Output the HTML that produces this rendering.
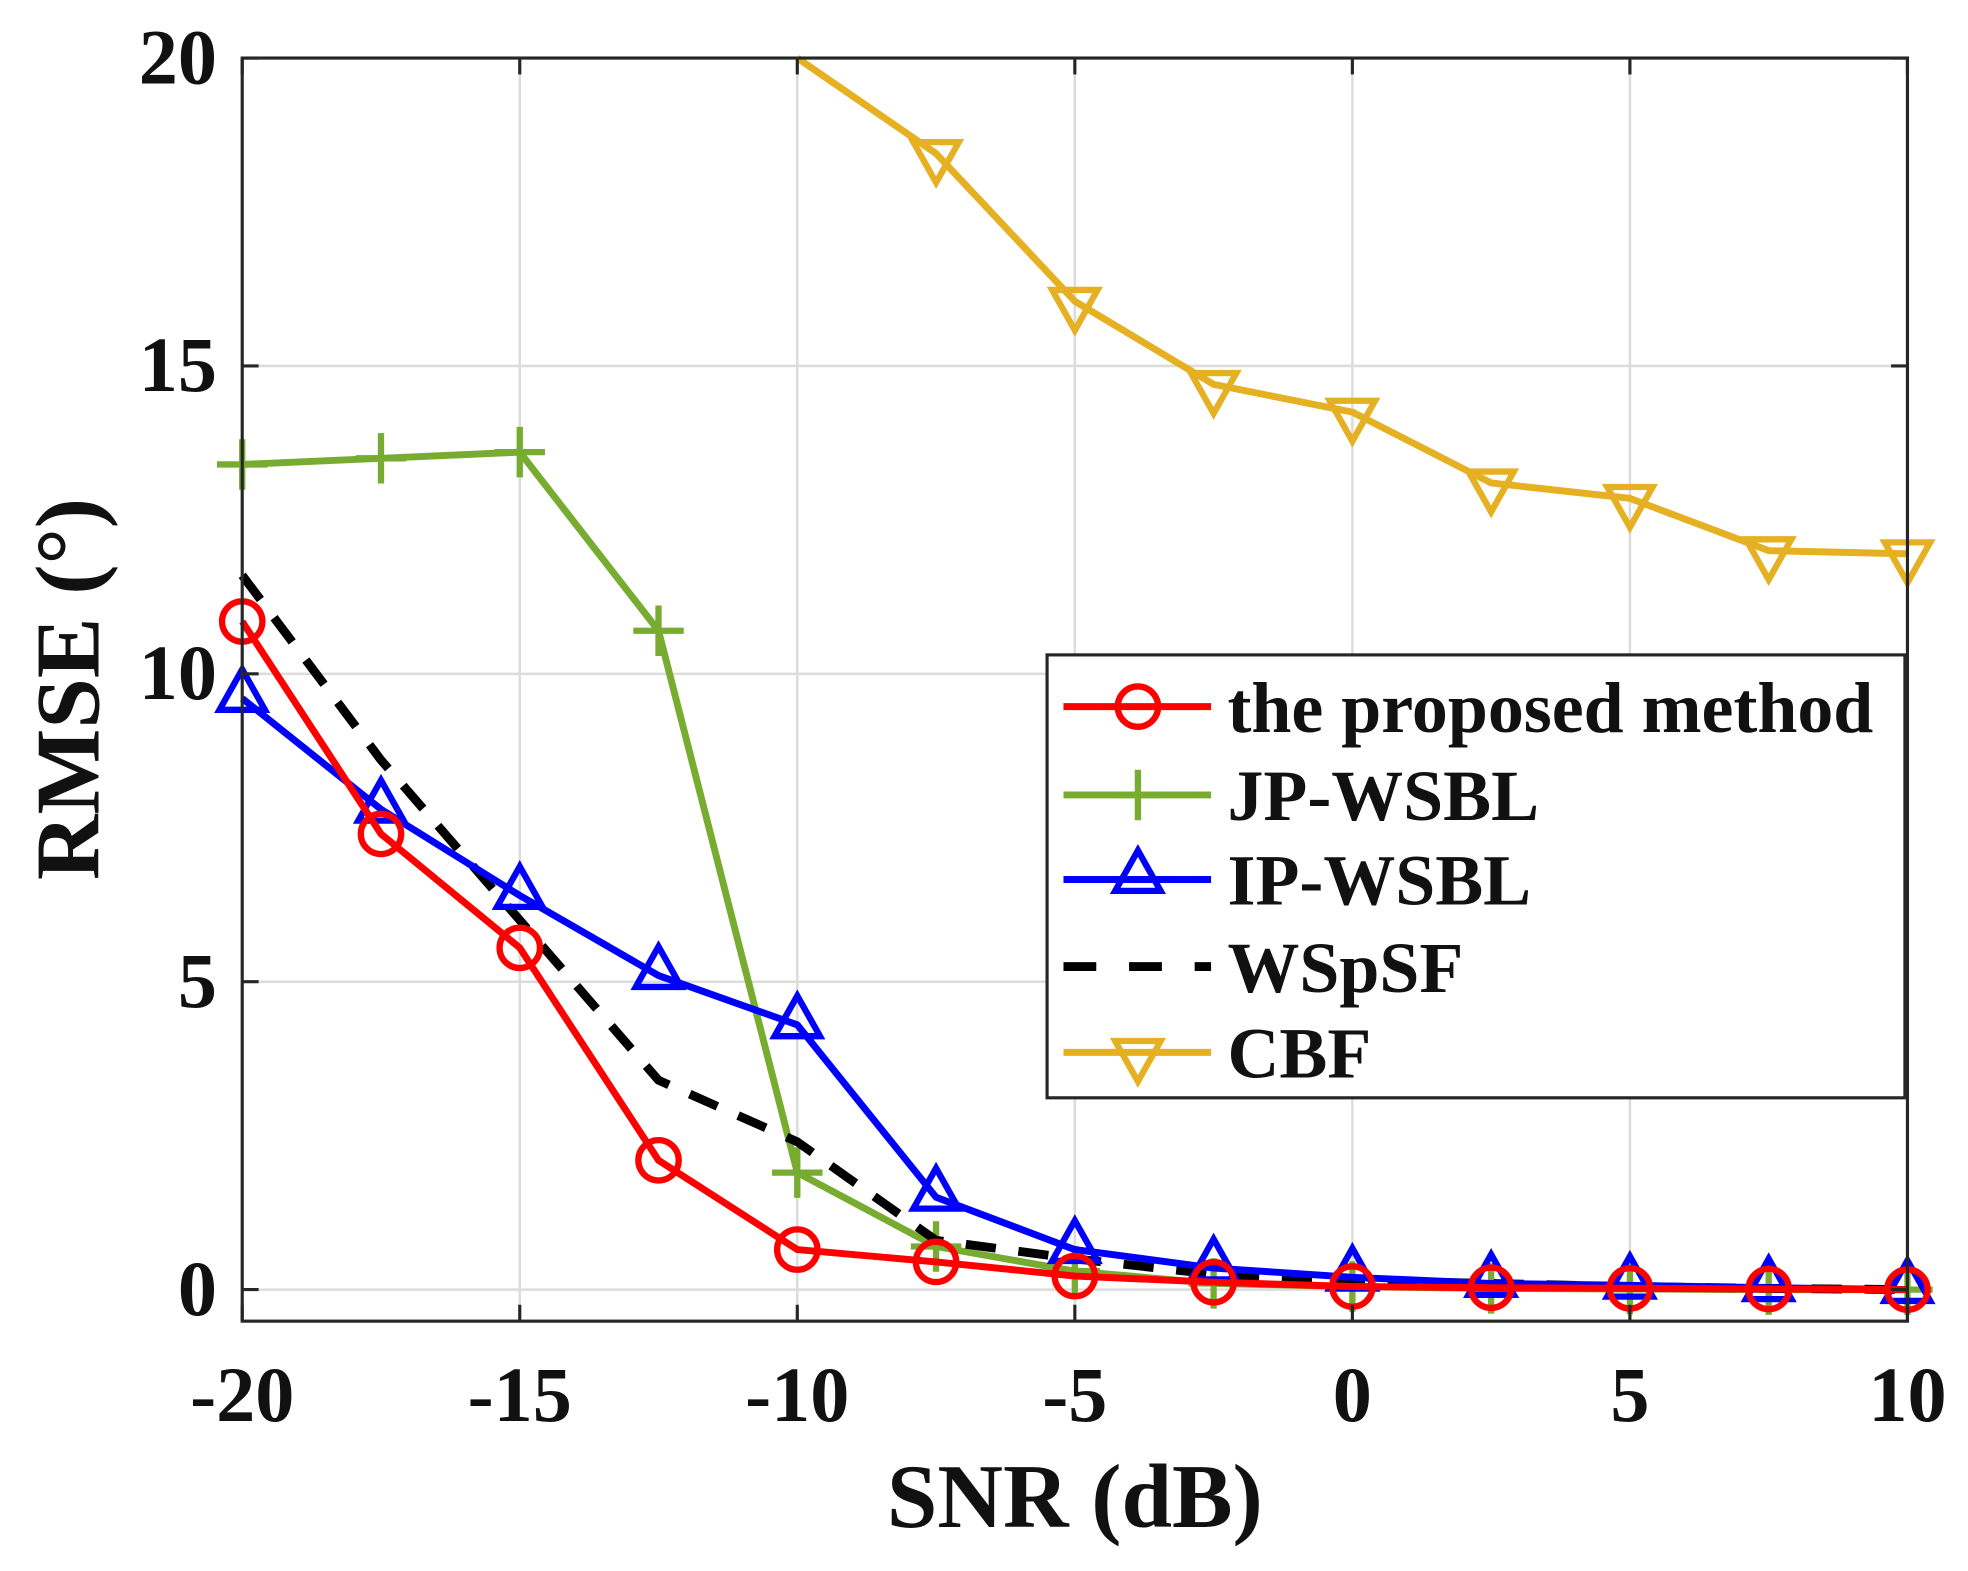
<!DOCTYPE html>
<html><head><meta charset="utf-8"><style>
html,body{margin:0;padding:0;background:#fff}
svg{display:block}
text{font-family:"Liberation Serif",serif;font-weight:bold;fill:#111}
</style></head><body>
<svg id="s" width="1968" height="1571" viewBox="0 0 1560 1245" preserveAspectRatio="none" xmlns="http://www.w3.org/2000/svg">
<rect x="0" y="0" width="1560" height="1245" fill="#fff"/>
<g id="grid" stroke="#dcdcdc" stroke-width="2"></g>
<g id="series"></g>
<rect x="192" y="46" width="1320" height="1001" fill="none" stroke="#262626" stroke-width="2.5"/>
<g id="ticks" stroke="#262626" stroke-width="2.5"></g>
<g id="labels" font-size="62"></g>
<text x="852" y="1210" font-size="72" text-anchor="middle">SNR (dB)</text>
<text transform="translate(78,546) rotate(-90)" font-size="72" text-anchor="middle">RMSE (°)</text>
<rect x="830" y="519" width="680" height="351" fill="#fff" stroke="#262626" stroke-width="2.5"/>
<g id="legend" font-size="57"></g>
</svg>
<script>
const NS="http://www.w3.org/2000/svg";
function el(p,t,a,txt){const e=document.createElementNS(NS,t);for(const k in a)e.setAttribute(k,a[k]);if(txt!==undefined)e.textContent=txt;document.getElementById(p).appendChild(e);return e;}
const X=s=>192+44*(s+20), Y=v=>1022-48.8*v;
for(let s=-20;s<=10;s+=5){if(s>-20&&s<10)el('grid','line',{x1:X(s),y1:46,x2:X(s),y2:1047});
 el('ticks','line',{x1:X(s),y1:1047,x2:X(s),y2:1034});el('ticks','line',{x1:X(s),y1:46,x2:X(s),y2:59});
 el('labels','text',{x:X(s),y:1126,'text-anchor':'middle'},String(s));}
for(let v=0;v<=20;v+=5){if(v<20)el('grid','line',{x1:192,y1:Y(v),x2:1512,y2:Y(v)});
 el('ticks','line',{x1:192,y1:Y(v),x2:205,y2:Y(v)});el('ticks','line',{x1:1512,y1:Y(v),x2:1499,y2:Y(v)});
 el('labels','text',{x:172,y:Y(v)+20,'text-anchor':'end'},v);}
const xs=[-20,-17.5,-15,-12.5,-10,-7.5,-5,-2.5,0,2.5,5,7.5,10];
const S=[
 {c:'#e6b023',m:'tv',d:[null,null,null,null,20,18.45,16.05,14.7,14.25,13.1,12.85,12.0,11.95]},
 {c:'#77ac30',m:'plus',d:[13.4,13.5,13.6,10.7,1.9,0.7,0.3,0.1,0.05,0.02,0.01,0,0]},
 {c:'#000',m:'none',dash:'24 18',d:[11.6,8.6,6.0,3.4,2.4,0.8,0.5,0.25,0.15,0.1,0.05,0.02,0]},
 {c:'#0000ff',m:'tri',d:[9.6,7.8,6.4,5.1,4.3,1.5,0.65,0.35,0.2,0.1,0.07,0.03,0]},
 {c:'#ff0000',m:'o',d:[10.85,7.4,5.55,2.1,0.65,0.45,0.22,0.12,0.05,0.03,0.02,0.01,0]}];
function marker(p,m,x,y,c,first){
 if(m==='o')el(p,'circle',{cx:x,cy:y,r:16,fill:'none',stroke:c,'stroke-width':5});
 if(m==='plus'){el(p,'line',{x1:x-20,y1:y,x2:x+20,y2:y,stroke:c,'stroke-width':5});el(p,'line',{x1:x,y1:y-20,x2:x,y2:y+20,stroke:c,'stroke-width':5});}
 if(m==='tri')el(p,'polygon',{points:`${x},${y-23} ${x-18},${y+9} ${x+18},${y+9}`,fill:'none',stroke:c,'stroke-width':5});
 if(m==='tv'&&!first)el(p,'polygon',{points:`${x},${y+23} ${x-18},${y-9} ${x+18},${y-9}`,fill:'none',stroke:c,'stroke-width':5});
}
for(const s of S){let pts=[];xs.forEach((x,i)=>{if(s.d[i]!==null)pts.push([X(x),Y(s.d[i])]);});
 const a={points:pts.map(p=>p.join(',')).join(' '),fill:'none',stroke:s.c,'stroke-width':s.dash?7:5.5,'stroke-linejoin':'round'};if(s.dash)a['stroke-dasharray']=s.dash;
 el('series','polyline',a);pts.forEach((p,i)=>marker('series',s.m,p[0],p[1],s.c,i===0&&s.m==='tv'));}
const L=[['the proposed method','#ff0000','o'],['JP-WSBL','#77ac30','plus'],['IP-WSBL','#0000ff','tri'],['WSpSF','#000','none'],['CBF','#e6b023','tv']];
const ly=[560,630,697,766,834];
L.forEach((l,i)=>{const y=ly[i];const a={x1:843,y1:y,x2:960,y2:y,stroke:l[1],'stroke-width':l[2]==='none'?7:5.5};if(l[2]==='none')a['stroke-dasharray']='26 26';
 el('legend','line',a);marker('legend',l[2],902,y,l[1],false);
 el('legend','text',{x:973,y:y+20},l[0]);});
</script>
</body></html>
